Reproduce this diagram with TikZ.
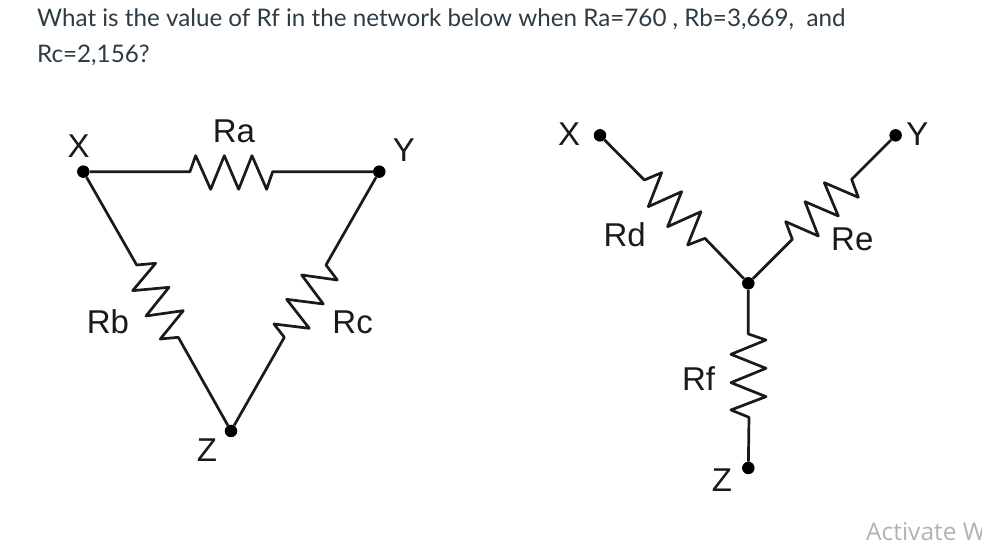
\documentclass[tikz,border=0pt]{standalone}
\usepackage{fontspec}
\setmainfont{Lato}
\newfontfamily\labelfont{Liberation Sans}
\newfontfamily\watermark{Open Sans}
\definecolor{headcol}{HTML}{2D3B45}
\definecolor{labelcol}{HTML}{1A1A1A}
\begin{document}
\begin{tikzpicture}[x=1pt,y=-1pt,
  term/.style={circle,fill=black,minimum size=12.5pt,inner sep=0pt},
  wire/.style={draw=labelcol,line width=2.7pt,line join=round},
  lbl/.style={inner sep=0pt,text=labelcol,font=\labelfont\fontsize{33}{33}\selectfont},
  head/.style={anchor=base west,inner sep=0pt,text=headcol,font=\fontsize{24.2}{24.2}\selectfont}]
\useasboundingbox (0,0) rectangle (982,547);
\node[head] (h1) at (37,26) {What is the value of Rf in the network below when Ra=760 , Rb=3,669,\ \ and};
\node[head] (h2) at (37,62) {Rc=2,156?};

% delta network, coordinates in pixels of the 3x crop
\begin{scope}[xshift=50pt,yshift=-100pt,x=0.3333pt,y=-0.3333pt]
\node[term] (dx) at (100,215) {};
\node[term] (dy) at (988,215) {};
\node[term] (dz) at (543,993) {};
\draw[wire] (dx) -- (420,215) -- (437,167) -- (482,268) -- (523,167) -- (566,268) -- (606,167) -- (650,268) -- (668,215) -- (dy);
\draw[wire] (dx) -- (260,495) -- (317,490) -- (248,572) -- (357,562) -- (288,648) -- (400,632) -- (331,717) -- (385,712) -- (dz);
\draw[wire] (dy) -- (828,495) -- (862,540) -- (755,525) -- (820,612) -- (710,598) -- (778,685) -- (672,672) -- (703,712) -- (dz);
\node[lbl] (lx) at (86,137) {X};
\node[lbl] (ly) at (1062,150) {Y};
\node[lbl] (lz) at (471,1050) {Z};
\node[lbl] (la) at (552,94) {Ra};
\node[lbl] (lb) at (174,666) {Rb};
\node[lbl] (lc) at (908,666) {Rc};
\end{scope}

% star network
\begin{scope}[xshift=550pt,yshift=-110pt,x=0.3333pt,y=-0.3333pt]
\node[term] (sx) at (150,76) {};
\node[term] (sy) at (1037,76) {};
\node[term] (so) at (595,520) {};
\node[term] (sz) at (595,1074) {};
\draw[wire] (sx) -- (283,210) -- (335,188) -- (295,290) -- (395,245) -- (353,350) -- (453,305) -- (413,405) -- (465,385) -- (so);
\draw[wire] (sy) -- (905,208) -- (925,262) -- (823,218) -- (865,318) -- (765,275) -- (805,378) -- (707,335) -- (727,388) -- (so);
\draw[wire] (so) -- (595,672) -- (648,690) -- (543,733) -- (648,775) -- (543,818) -- (648,860) -- (543,900) -- (597,922) -- (sz);
\node[lbl] (tx) at (57,72) {X};
\node[lbl] (ty) at (1102,72) {Y};
\node[lbl] (tz) at (516,1110) {Z};
\node[lbl] (td) at (224,375) {Rd};
\node[lbl] (te) at (907,388) {Re};
\node[lbl] (tf) at (446,806) {Rf};
\end{scope}

\begin{scope}
\clip (0,0) rectangle (982,547);
\node[anchor=base west,inner sep=0pt,text=black!30,font=\watermark\fontsize{24.5}{24.5}\selectfont] (wm) at (866,540) {Activate W};
\end{scope}
\end{tikzpicture}
\end{document}
